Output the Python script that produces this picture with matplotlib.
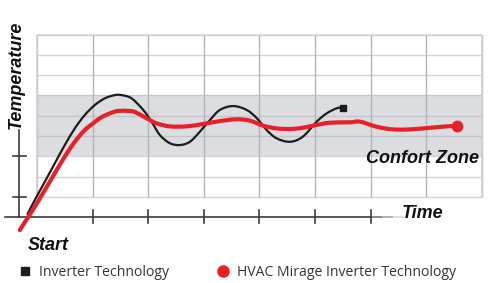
import matplotlib
matplotlib.use('Agg')
import matplotlib.pyplot as plt
from matplotlib.lines import Line2D
from matplotlib.path import Path
from matplotlib.patches import PathPatch
import numpy as np

# ---- data (time in grid columns, temperature in grid rows) ----
inverter_time = [-0.17, -0.04, 0.14, 0.32, 0.50, 0.68, 0.86, 1.04, 1.22, 1.40, 1.52, 1.70,
                 1.91, 2.06, 2.21, 2.39, 2.57, 2.75, 2.93, 3.11, 3.29, 3.53, 3.77, 3.95,
                 4.13, 4.31, 4.55, 4.78, 5.03, 5.21, 5.39, 5.51]
inverter_temp = [-0.84, -0.15, 0.75, 1.66, 2.56, 3.38, 4.04, 4.53, 4.86, 5.02, 5.02, 4.86,
                 4.29, 3.71, 3.05, 2.65, 2.56, 2.72, 3.22, 3.79, 4.29, 4.48, 4.29, 3.89,
                 3.30, 2.89, 2.72, 2.97, 3.71, 4.12, 4.37, 4.40]

mirage_time = [-0.31, -0.04, 0.14, 0.32, 0.50, 0.68, 0.86, 1.01, 1.16, 1.34, 1.46,
               1.64, 1.76, 1.97, 2.15, 2.39, 2.69, 2.99, 3.29, 3.59, 3.83, 4.07, 4.31,
               4.55, 4.78, 5.03, 5.27, 5.63, 5.81, 6.11, 6.40, 6.71, 7.07, 7.37, 7.55]
mirage_temp = [-1.63, -0.48, 0.34, 1.17, 1.99, 2.72, 3.30, 3.63, 3.93, 4.15, 4.24,
               4.24, 4.19, 3.88, 3.63, 3.48, 3.48, 3.60, 3.74, 3.83, 3.76, 3.51, 3.38,
               3.35, 3.41, 3.55, 3.66, 3.68, 3.71, 3.46, 3.33, 3.33, 3.41, 3.48, 3.50]

comfort_zone = (2, 5)
n_cols, n_rows = 8, 8
x_ticks = [1, 2, 3, 4, 5, 6]
y_ticks = [0, 2]

series_labels = ["Inverter Technology", "HVAC Mirage Inverter Technology"]
RED = '#e8202a'
BLACK = '#1c1c1c'
AXC = '#3a3a3a'


def smooth_path(xs, ys):
    """Smooth curve through the points (Catmull-Rom drawn as cubic Bezier segments)."""
    p = np.column_stack([xs, ys]).astype(float)
    ext = np.vstack([p[0], p, p[-1]])
    verts = [p[0]]
    codes = [Path.MOVETO]
    for i in range(1, len(ext) - 2):
        p0, p1, p2, p3 = ext[i - 1], ext[i], ext[i + 1], ext[i + 2]
        verts += [p1 + (p2 - p0) / 6.0, p2 - (p3 - p1) / 6.0, p2]
        codes += [Path.CURVE4] * 3
    return Path(verts, codes)


fig = plt.figure(figsize=(5, 2.83), dpi=100)
ax = fig.add_axes([0, 0, 1, 1])
ax.set_xlim(-0.6655, 8.327)
ax.set_ylim(-4.236, 9.704)
ax.axis('off')

# comfort band and grid
ax.fill_between([0, n_cols], comfort_zone[0], comfort_zone[1], color='#dcdde0', lw=0, zorder=1)
ax.hlines(range(0, n_rows + 1), 0, n_cols, color='#b8b8b8', alpha=0.6, lw=1, zorder=2)
ax.vlines(range(0, n_cols + 1), 0, n_rows, color='#b4b4b4', lw=1, zorder=2)
ax.vlines([0, n_cols], 0, n_rows, color='#d2d2d2', lw=1.2, zorder=2)
ax.hlines([n_rows], 0, n_cols, color='#d2d2d2', lw=1.2, zorder=2)

# hand-drawn style axes
ax_y = -0.985
ay_x = -0.324
ax.plot([ay_x, ay_x], [ax_y, 3.3], color=AXC, lw=1.2, zorder=3)
ax.plot([-0.576, 6.0], [ax_y, ax_y], color=AXC, lw=1.2, zorder=3)
fade = [(6.0, 6.2, 0.7), (6.2, 6.4, 0.45), (6.4, 6.6, 0.2)]
for a, b, al in fade:
    ax.plot([a, b], [ax_y, ax_y], color=AXC, lw=1.2, alpha=al, zorder=3, solid_capstyle='butt')
for t in x_ticks:
    ax.plot([t, t], [-0.64, -1.28], color=AXC, lw=1.2, zorder=3)
for t in y_ticks:
    ax.plot([-0.426, -0.198], [t, t], color=AXC, lw=1.2, zorder=3)

# curves
ax.add_patch(PathPatch(smooth_path(inverter_time, inverter_temp), fill=False,
                       edgecolor=BLACK, lw=1.6, zorder=4, capstyle='round', joinstyle='round'))
ax.plot(inverter_time[-1:], inverter_temp[-1:], marker='s', ms=5, color=BLACK, zorder=4)
ax.add_patch(PathPatch(smooth_path(mirage_time, mirage_temp), fill=False,
                       edgecolor=RED, lw=3.0, zorder=5, capstyle='round', joinstyle='round'))
ax.plot(mirage_time[-1:], mirage_temp[-1:], marker='o', ms=7.5, color=RED, zorder=5)

# labels
lab = dict(family='Liberation Sans', weight='bold', style='italic', size=13, color='#111111')
ax.text(-0.369, 6.01, 'Temperature', rotation=90, ha='center', va='center', **lab)
ax.text(-0.162, -2.61, 'Start', ha='left', va='baseline', **lab)
ax.text(6.565, -1.03, 'Time', ha='left', va='baseline', **lab)
ax.text(7.95, 1.675, 'Confort Zone', ha='right', va='baseline', **lab)

handles = [
    Line2D([], [], ls='none', marker='s', ms=5.8, color=BLACK),
    Line2D([], [], ls='none', marker='o', ms=8, color=RED),
]
leg = fig.legend(handles, series_labels, loc='center left', ncol=2, frameon=False,
                 bbox_to_anchor=(17.5 / 500, 11 / 283), borderpad=0, borderaxespad=0,
                 handlelength=1.0, handletextpad=0.5, columnspacing=3.35,
                 prop={'family': 'Open Sans', 'size': 10.1})
for t in leg.get_texts():
    t.set_color('#333333')

fig.savefig('out.png', dpi=100)
